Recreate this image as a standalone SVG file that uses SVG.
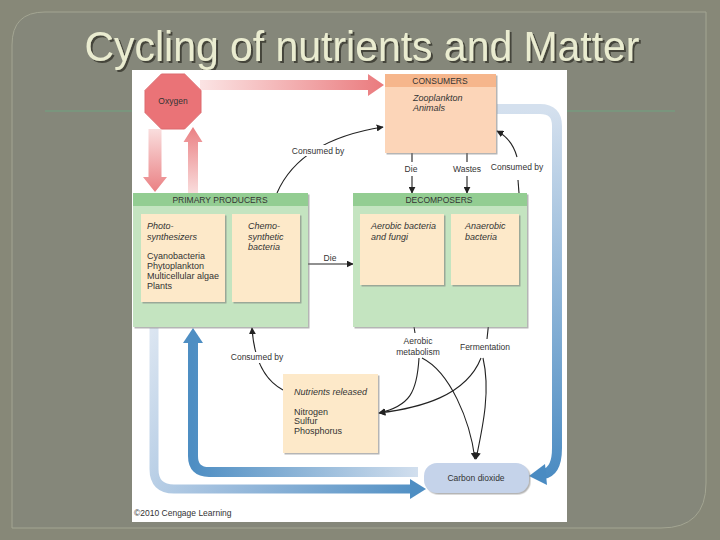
<svg xmlns="http://www.w3.org/2000/svg" width="720" height="540" viewBox="0 0 720 540">
<defs>
<style>
.t{font-family:"Liberation Sans",Arial,sans-serif;font-size:8.5px;fill:#333}
.b{font-size:9px}
.i{font-style:italic}
.m{text-anchor:middle}
.ln{fill:none;stroke:#222;stroke-width:1.1}
.cream{fill:#fde9c9}
.gh{fill:#93cd92}
.gb{fill:#c4e4c0}
</style>
<filter id="sh" x="-10%" y="-10%" width="125%" height="125%">
<feDropShadow dx="1.5" dy="1.5" stdDeviation="0.7" flood-color="#777" flood-opacity="0.55"/>
</filter>
<filter id="tsh" x="-5%" y="-20%" width="110%" height="150%">
<feDropShadow dx="2" dy="2" stdDeviation="0.6" flood-color="#3c3c34" flood-opacity="0.9"/>
</filter>
<marker id="ah" viewBox="0 0 10 10" refX="9" refY="5" markerWidth="7" markerHeight="7" markerUnits="userSpaceOnUse" orient="auto">
<path d="M0,0 L10,5 L0,10 Z" fill="#222"/>
</marker>
<linearGradient id="rH" gradientUnits="userSpaceOnUse" x1="200" y1="0" x2="384" y2="0">
<stop offset="0" stop-color="#fbe4e4"/><stop offset="1" stop-color="#ea7a7d"/>
</linearGradient>
<linearGradient id="rD" gradientUnits="userSpaceOnUse" x1="0" y1="130" x2="0" y2="192">
<stop offset="0" stop-color="#f9dcdc"/><stop offset="1" stop-color="#ea8083"/>
</linearGradient>
<linearGradient id="rU" gradientUnits="userSpaceOnUse" x1="0" y1="193" x2="0" y2="127">
<stop offset="0" stop-color="#f9dcdc"/><stop offset="1" stop-color="#ea8083"/>
</linearGradient>
<linearGradient id="bO" gradientUnits="userSpaceOnUse" x1="154" y1="328" x2="426" y2="490">
<stop offset="0" stop-color="#dbe5f1"/><stop offset="0.45" stop-color="#9dbddd"/><stop offset="1" stop-color="#4e8ec3"/>
</linearGradient>
<linearGradient id="bI" gradientUnits="userSpaceOnUse" x1="418" y1="0" x2="193" y2="0">
<stop offset="0" stop-color="#d2dfee"/><stop offset="1" stop-color="#4e8ec3"/>
</linearGradient>
<linearGradient id="bR" gradientUnits="userSpaceOnUse" x1="0" y1="109" x2="0" y2="480">
<stop offset="0" stop-color="#d4e0ee"/><stop offset="1" stop-color="#4a8bc2"/>
</linearGradient>
</defs>

<rect x="0" y="0" width="720" height="540" fill="#878878"/>
<path d="M12,45 Q12,12 45,12 L706,12 L706,483 Q706,528 661,528 L12,528 Z" fill="#85877a" stroke="#a3a592" stroke-width="1"/>
<line x1="45" y1="111" x2="675" y2="111" stroke="#7a957d" stroke-width="2"/>
<text x="362" y="61" font-family="'Liberation Sans',Arial,sans-serif" font-size="42" fill="#eaecd0" text-anchor="middle" textLength="555" lengthAdjust="spacingAndGlyphs" filter="url(#tsh)">Cycling of nutrients and Matter</text>

<rect x="132" y="70" width="435" height="452" fill="#ffffff"/>

<g id="connectors">
<!-- red arrows -->
<path d="M200,80 L368,80 L368,74 L384,85 L368,96 L368,90 L200,90 Z" fill="url(#rH)"/>
<path d="M148.5,129 L161.5,129 L161.5,177 L167,177 L155,192 L143,177 L148.5,177 Z" fill="url(#rD)"/>
<path d="M188,193 L198,193 L198,142 L202.5,142 L193,127 L183.5,142 L188,142 Z" fill="url(#rU)"/>
<!-- blue bands -->
<path d="M154,328 L154,469 Q154,489 174,489 L411,489" fill="none" stroke="url(#bO)" stroke-width="9"/>
<polygon points="410,479 426,489 410,499" fill="#4e8ec3"/>
<path d="M418,472 L209,472 Q193,472 193,456 L193,342" fill="none" stroke="url(#bI)" stroke-width="10"/>
<polygon points="183,343 193,328 203,343" fill="#4e8ec3"/>
<path d="M497,109 L540,109 Q557,109 557,126 L557,448 Q557,472 543,474" fill="none" stroke="url(#bR)" stroke-width="10"/>
<polygon points="545,464 529,476 547,485" fill="#4a8bc2"/>
<!-- black connectors -->
<path class="ln" d="M277,193 Q300,140 383,127" marker-end="url(#ah)"/>
<rect x="289" y="145" width="58" height="11" fill="#fff"/>
<text class="t m" x="318" y="154">Consumed by</text>

<line class="ln" x1="412" y1="153" x2="412" y2="162"/>
<line class="ln" x1="412" y1="176" x2="412" y2="193" marker-end="url(#ah)"/>
<text class="t m" x="411" y="172">Die</text>
<line class="ln" x1="467" y1="153" x2="467" y2="162"/>
<line class="ln" x1="467" y1="176" x2="467" y2="193" marker-end="url(#ah)"/>
<text class="t m" x="467" y="172">Wastes</text>

<path class="ln" d="M519,193 L518,180"/>
<path class="ln" d="M517,157 Q512,139 497,131" marker-end="url(#ah)"/>
<text class="t m" x="517" y="170">Consumed by</text>

<line class="ln" x1="308" y1="264" x2="353" y2="264" marker-end="url(#ah)"/>
<text class="t m" x="330" y="261">Die</text>

<path class="ln" d="M399,285 Q412,305 415,333"/>
<path class="ln" d="M486,285 Q491,312 487,339"/>
<text class="t m" x="418" y="344">Aerobic</text>
<text class="t m" x="418" y="355">metabolism</text>
<text class="t m" x="485" y="350">Fermentation</text>

<path class="ln" d="M419,358 C417,392 410,406 379,413" marker-end="url(#ah)"/>
<path class="ln" d="M422,358 C450,372 470,420 475,459" marker-end="url(#ah)"/>
<path class="ln" d="M481,358 C466,396 420,408 379,413" marker-end="url(#ah)"/>
<path class="ln" d="M483,358 C491,392 482,430 476,459" marker-end="url(#ah)"/>

<path class="ln" d="M283,390 Q255,375 252,328" marker-end="url(#ah)"/>
<rect x="230" y="352" width="56" height="11" fill="#fff"/>
<text class="t m" x="257" y="360">Consumed by</text>
</g>

<g id="oxygen">
<polygon points="161.4,74 184.6,74 201,90.4 201,112.6 184.6,129 161.4,129 145,112.6 145,90.4" fill="#ea7377" stroke="#dd6a6e" stroke-width="1"/>
<text class="t m" x="173" y="104">Oxygen</text>
</g>

<g id="consumers">
<rect x="385" y="74" width="111" height="79" fill="#fcd5b8" filter="url(#sh)"/>
<rect x="385" y="74" width="111" height="13" fill="#f6b68c"/>
<text class="t m" x="440" y="84">CONSUMERS</text>
<text class="t b i" x="413" y="101">Zooplankton</text>
<text class="t b i" x="413" y="111">Animals</text>
</g>

<g id="producers">
<rect x="133" y="193" width="175" height="134" class="gb" filter="url(#sh)"/>
<rect x="133" y="193" width="175" height="13" class="gh"/>
<text class="t m" x="220" y="203">PRIMARY PRODUCERS</text>
<rect x="141" y="214" width="84" height="88" class="cream" filter="url(#sh)"/>
<text class="t b i" x="147" y="229">Photo-</text>
<text class="t b i" x="147" y="240">synthesizers</text>
<text class="t b" x="147" y="259">Cyanobacteria</text>
<text class="t b" x="147" y="269">Phytoplankton</text>
<text class="t b" x="147" y="279">Multicellular algae</text>
<text class="t b" x="147" y="289">Plants</text>
<rect x="232" y="214" width="68" height="88" class="cream" filter="url(#sh)"/>
<text class="t b i" x="248" y="229">Chemo-</text>
<text class="t b i" x="248" y="240">synthetic</text>
<text class="t b i" x="248" y="250">bacteria</text>
</g>

<g id="decomposers">
<rect x="353" y="193" width="174" height="134" class="gb" filter="url(#sh)"/>
<rect x="353" y="193" width="174" height="13" class="gh"/>
<text class="t m" x="439" y="203">DECOMPOSERS</text>
<rect x="360" y="214" width="84" height="71" class="cream" filter="url(#sh)"/>
<text class="t b i" x="371" y="229">Aerobic bacteria</text>
<text class="t b i" x="371" y="240">and fungi</text>
<rect x="451" y="214" width="68" height="71" class="cream" filter="url(#sh)"/>
<text class="t b i" x="465" y="229">Anaerobic</text>
<text class="t b i" x="465" y="240">bacteria</text>
</g>

<g id="nutrients">
<rect x="283" y="374" width="95" height="79" class="cream" filter="url(#sh)"/>
<text class="t b i" x="294" y="395">Nutrients released</text>
<text class="t b" x="294" y="415">Nitrogen</text>
<text class="t b" x="294" y="424">Sulfur</text>
<text class="t b" x="294" y="434">Phosphorus</text>
</g>

<g id="co2">
<rect x="424" y="463" width="105" height="30" rx="13" fill="#c5d3ea" filter="url(#sh)"/>
<text class="t m" x="476" y="481">Carbon dioxide</text>
</g>

<text class="t" x="134" y="516" font-size="7.5" fill="#111">©2010 Cengage Learning</text>
</svg>
